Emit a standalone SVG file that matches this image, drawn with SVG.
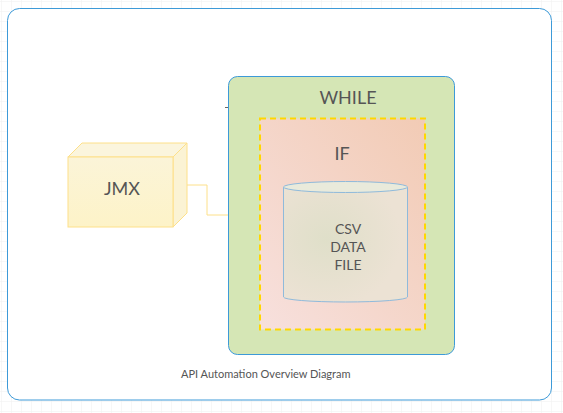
<svg xmlns="http://www.w3.org/2000/svg" width="563" height="413" viewBox="0 0 563 413">
<style>
.lbl{font-family:Lato,"Open Sans","Liberation Sans",sans-serif;fill:#555;text-anchor:middle}
.conn{fill:none;stroke:#fde08a;stroke-width:1}
</style>
<defs>
<pattern id="grid" width="10" height="10" patternUnits="userSpaceOnUse" x="1" y="1">
<path d="M10 0H0V10" fill="none" stroke="#efefef" stroke-width="1"/>
</pattern>
<linearGradient id="ifg" x1="0" y1="1" x2="1" y2="0">
<stop offset="0" stop-color="#f7e0dd"/>
<stop offset="1" stop-color="#f2cbb5"/>
</linearGradient>
<radialGradient id="cyl" cx="0.35" cy="0.45" r="0.6">
<stop offset="0" stop-color="#dfdfc9"/>
<stop offset="1" stop-color="#ece2d4"/>
</radialGradient>
<linearGradient id="jmxf" x1="0" y1="0" x2="0" y2="1">
<stop offset="0" stop-color="#fbf4d8"/>
<stop offset="1" stop-color="#fdf3c8"/>
</linearGradient>
</defs>
<rect width="563" height="413" fill="#fff"/>
<rect width="563" height="413" fill="url(#grid)"/>
<rect id="frame" x="7.5" y="8.5" width="544" height="391.5" rx="12" fill="#fff" stroke="#3d9ad8" stroke-width="1"/>
<g id="connectors">
<path class="conn" d="M187 185H207V215H228"/>
<line x1="225" y1="107.5" x2="229" y2="107.5" stroke="#666" stroke-width="1"/>
</g>
<g id="jmx">
<path d="M68 157L82 143H187L173 157Z" fill="#fbf5dd" stroke="#fde08a"/>
<path d="M173 157L187 143V213L173 227Z" fill="#fbf3d4" stroke="#fde08a"/>
<rect x="68" y="157" width="105" height="70" fill="url(#jmxf)" stroke="#fde08a"/>
<text class="lbl" x="122" y="195" font-size="18">JMX</text>
</g>
<g id="while">
<rect x="228.5" y="76.5" width="226" height="278" rx="9" fill="#d5e6b5" stroke="#3d9ad8" stroke-width="1"/>
<text class="lbl" x="348" y="103.5" font-size="18">WHILE</text>
</g>
<g id="if">
<rect x="260" y="118.5" width="165" height="211" fill="url(#ifg)" stroke="#ffd700" stroke-width="2" stroke-dasharray="6 4"/>
<text class="lbl" x="342" y="160" font-size="18">IF</text>
</g>
<g id="csv">
<path d="M283.5 187V297A62 5 0 0 0 407.5 297V187" fill="url(#cyl)" stroke="#8fbadb" stroke-width="1"/>
<ellipse cx="345.5" cy="187" rx="62" ry="5.5" fill="#e9eadb" stroke="#8fbadb" stroke-width="1"/>
<text class="lbl" x="348" y="234" font-size="14">CSV</text>
<text class="lbl" x="348" y="252" font-size="14">DATA</text>
<text class="lbl" x="348" y="269.5" font-size="14">FILE</text>
</g>
<text id="caption" x="181" y="378" font-size="11" style="font-family:Lato,'Open Sans','Liberation Sans',sans-serif;fill:#555">API Automation Overview Diagram</text>
</svg>
